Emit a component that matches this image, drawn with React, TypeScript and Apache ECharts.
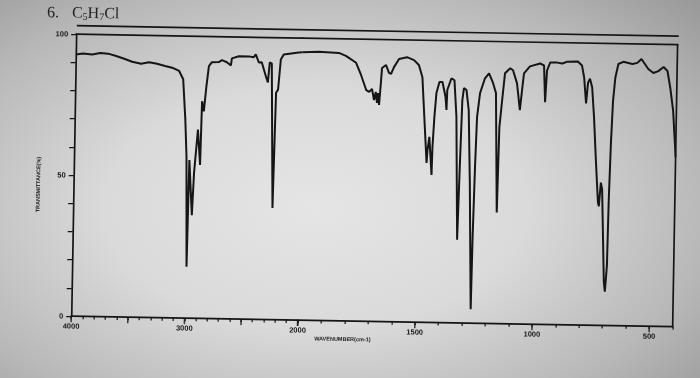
import React, { useEffect, useRef } from "react";
import * as echarts from "echarts";

// IR spectrum: wavenumber (cm-1) and transmittance (%)
const wavenumbers = [
  4000, 3935, 3855, 3785, 3715, 3643, 3572, 3501, 3422, 3352, 3281, 3210, 3138, 3085, 3048, 3023, 3007,
  2990, 2981, 2951, 2938, 2910, 2886, 2878, 2861, 2842, 2823, 2797, 2736, 2709, 2665, 2629, 2621, 2560,
  2472, 2428, 2411, 2383, 2357, 2318, 2300, 2286, 2268, 2240, 2232, 2226, 2209, 2189, 2164, 2032, 2000,
  1930, 1844, 1814, 1801, 1770, 1748, 1725, 1712, 1700, 1691, 1684, 1678, 1674, 1669, 1662, 1659, 1642,
  1629, 1620, 1608, 1587, 1553, 1523, 1502, 1486, 1475, 1462, 1459, 1452, 1440, 1438, 1432, 1425, 1413,
  1400, 1386, 1381, 1379, 1362, 1349, 1338, 1326, 1320, 1314, 1308, 1297, 1286, 1276, 1263, 1260, 1255,
  1250, 1239, 1219, 1202, 1184, 1171, 1159, 1154, 1145, 1134, 1112, 1100, 1082, 1068, 1060, 1053, 1028,
  985, 968, 961, 955, 942, 912, 890, 869, 824, 806, 796, 786, 779, 771, 761, 751, 740, 728, 724, 717, 711,
  704, 697, 692, 685, 682, 677, 671, 663, 651, 630, 591, 570, 553, 541, 523, 501, 480, 458, 441, 428, 414,
  402, 400,
];
const transmittance = [
  92.8, 93.2, 92.9, 93.5, 93.3, 92.5, 91.6, 90.6, 89.9, 90.5, 90.0, 89.3, 88.6, 87.6, 84.7, 70.4, 57.2,
  18.2, 56.1, 36.5, 51.5, 66.9, 54.4, 77.0, 73.4, 82.3, 89.5, 90.9, 91.0, 91.7, 91.0, 89.9, 92.4, 93.2,
  93.2, 92.9, 94.0, 91.1, 91.2, 86.2, 84.1, 91.2, 90.8, 39.6, 63.8, 80.5, 81.6, 92.3, 94.1, 94.9, 95.0,
  95.3, 95.0, 94.0, 93.3, 91.6, 87.3, 82.0, 81.4, 82.4, 78.5, 81.4, 77.5, 81.0, 76.8, 85.7, 89.9, 91.0,
  88.2, 87.9, 90.3, 93.2, 93.9, 92.9, 91.2, 86.9, 72.8, 56.5, 61.1, 65.8, 52.3, 62.2, 72.9, 81.4, 85.3,
  85.3, 80.0, 75.4, 82.5, 86.7, 86.0, 73.0, 29.5, 55.3, 79.0, 83.3, 82.6, 75.5, 49.8, 4.9, 30.7, 55.4,
  73.1, 81.6, 86.9, 88.7, 85.2, 81.7, 39.4, 69.7, 78.5, 88.8, 90.6, 89.9, 85.3, 75.8, 82.9, 88.9, 91.4,
  92.5, 91.8, 78.8, 90.0, 92.9, 92.9, 92.6, 93.3, 93.4, 92.0, 87.8, 78.6, 86.0, 87.4, 84.3, 73.8, 58.7,
  43.6, 42.2, 50.6, 48.2, 31.7, 15.5, 12.0, 21.2, 44.7, 64.7, 79.8, 87.9, 92.8, 93.6, 92.9, 93.3, 94.7,
  93.3, 91.2, 89.8, 90.5, 92.0, 90.6, 84.7, 76.6, 62.6, 60.0,
];

const xLabelsHigh = [4000, 3000];
const xLabelsLow = [2000, 1500, 1000, 500];
const majorTicksHigh = [4000, 3500, 3000, 2500, 2000];
const majorTicksLow = [2000, 1500, 1000, 500];
const yLabels = [0, 50, 100];
const xName = "WAVENUMBER(cm-1)";
const yName = "TRANSMITTANCE(%)";

const INK = "#151515";
const LABEL_FONT = "Liberation Sans";

export default function App() {
  const ref = useRef<HTMLDivElement>(null);

  useEffect(() => {
    const chart = echarts.init(ref.current as HTMLDivElement, null, { renderer: "svg" });
    const ptsHigh: number[][] = [];
    const ptsLow: number[][] = [];
    wavenumbers.forEach((w, i) => {
      if (w >= 2000) ptsHigh.push([w, transmittance[i]]);
      if (w <= 2000) ptsLow.push([w, transmittance[i]]);
    });

    const gridTop = 39;
    const gridH = 282;
    const axisLine = { show: true, onZero: false, lineStyle: { color: INK, width: 1.7 } };
    const labelStyle = {
      fontFamily: LABEL_FONT,
      fontSize: 7.5,
      fontWeight: "bold" as const,
      color: "#151515",
    };

    const option: any = {
      animation: false,
      backgroundColor: "transparent",
      title: {
        left: 44,
        top: 8,
        padding: 0,
        text: "{n|6.}{b|C}{s|5}{b|H}{s|7}{b|Cl}",
        textStyle: {
          fontFamily: "Liberation Serif",
          fontSize: 16,
          fontWeight: "normal",
          color: "#222",
          rich: {
            n: { fontFamily: "Liberation Serif", fontSize: 16, color: "#222", width: 25, lineHeight: 18 },
            b: { fontFamily: "Liberation Serif", fontSize: 16, color: "#222", lineHeight: 18 },
            s: {
              fontFamily: "Liberation Serif",
              fontSize: 10,
              color: "#222",
              lineHeight: 8,
              verticalAlign: "bottom",
            },
          },
        },
      },
      grid: [
        { left: 73.5, top: gridTop, width: 226.5, height: gridH, containLabel: false },
        { left: 300, top: gridTop, width: 375, height: gridH, containLabel: false },
      ],
      xAxis: [
        {
          gridIndex: 0,
          type: "value",
          min: 2000,
          max: 4000,
          interval: 100,
          inverse: true,
          position: "bottom",
          axisLine,
          axisTick: { show: true, length: 3, lineStyle: { color: INK, width: 1.2 } },
          axisLabel: {
            ...labelStyle,
            margin: 6,
            showMinLabel: true,
            showMaxLabel: true,
            formatter: (v: number) => (xLabelsHigh.includes(v) ? String(v) : ""),
          },
          splitLine: { show: false },
        },
        {
          gridIndex: 1,
          type: "value",
          min: 400,
          max: 2000,
          interval: 100,
          inverse: true,
          position: "bottom",
          axisLine,
          axisTick: { show: true, length: 3, lineStyle: { color: INK, width: 1.2 } },
          axisLabel: {
            ...labelStyle,
            margin: 6,
            showMinLabel: true,
            showMaxLabel: true,
            formatter: (v: number) => (xLabelsLow.includes(v) ? String(v) : ""),
          },
          splitLine: { show: false },
        },
        {
          gridIndex: 0,
          type: "value",
          min: 2000,
          max: 4000,
          inverse: true,
          position: "top",
          axisLine,
          axisTick: { show: false },
          axisLabel: { show: false },
          splitLine: { show: false },
        },
        {
          gridIndex: 1,
          type: "value",
          min: 400,
          max: 2000,
          inverse: true,
          position: "top",
          axisLine,
          axisTick: { show: false },
          axisLabel: { show: false },
          splitLine: { show: false },
        },
      ],
      yAxis: [
        {
          gridIndex: 0,
          type: "value",
          min: 0,
          max: 100,
          interval: 10,
          position: "left",
          axisLine,
          axisTick: { show: true, length: 5, lineStyle: { color: INK, width: 1.2 } },
          axisLabel: {
            ...labelStyle,
            margin: 8,
            showMinLabel: true,
            showMaxLabel: true,
            formatter: (v: number) => (yLabels.includes(v) ? String(v) : ""),
          },
          splitLine: { show: false },
        },
        {
          gridIndex: 1,
          type: "value",
          min: 0,
          max: 100,
          position: "right",
          axisLine,
          axisTick: { show: false },
          axisLabel: { show: false },
          splitLine: { show: false },
        },
      ],
      series: [
        {
          type: "line",
          xAxisIndex: 0,
          yAxisIndex: 0,
          data: ptsHigh,
          showSymbol: false,
          symbol: "none",
          lineStyle: { color: INK, width: 2 },
          silent: true,
        },
        {
          type: "line",
          xAxisIndex: 1,
          yAxisIndex: 1,
          data: ptsLow,
          showSymbol: false,
          symbol: "none",
          lineStyle: { color: INK, width: 2 },
          silent: true,
        },
        {
          type: "scatter",
          xAxisIndex: 0,
          yAxisIndex: 0,
          data: majorTicksHigh.map((v) => [v, 0]),
          symbol: "rect",
          symbolSize: [1.5, 6],
          symbolOffset: [0, 3],
          itemStyle: { color: INK },
          clip: false,
          silent: true,
          z: 5,
        },
        {
          type: "scatter",
          xAxisIndex: 1,
          yAxisIndex: 1,
          data: majorTicksLow.map((v) => [v, 0]),
          symbol: "rect",
          symbolSize: [1.5, 6],
          symbolOffset: [0, 3],
          itemStyle: { color: INK },
          clip: false,
          silent: true,
          z: 5,
        },
      ],
      graphic: [
        {
          type: "line",
          shape: { x1: 74, y1: 30.5, x2: 676, y2: 30.5 },
          style: { stroke: INK, lineWidth: 1.7 },
          silent: true,
        },
        {
          type: "text",
          x: 345,
          y: 339,
          silent: true,
          style: {
            text: xName,
            fontFamily: LABEL_FONT,
            fontSize: 5.5,
            fontWeight: "bold",
            fill: "#1a1a1a",
            align: "center",
            verticalAlign: "middle",
          },
        },
        {
          type: "text",
          x: 38,
          y: 190,
          rotation: Math.PI / 2,
          silent: true,
          style: {
            text: yName,
            fontFamily: LABEL_FONT,
            fontSize: 5.5,
            fontWeight: "bold",
            fill: "#1a1a1a",
            align: "center",
            verticalAlign: "middle",
          },
        },
      ],
    };

    chart.setOption(option);
    return () => {
      chart.dispose();
    };
  }, []);

  return (
    <div
      style={{
        position: "fixed",
        left: 0,
        top: 0,
        width: 700,
        height: 378,
        overflow: "hidden",
        background:
          "radial-gradient(ellipse 75% 80% at 45% 55%, #e5e5e5 0%, #dadada 40%, #b8b8b8 75%, #999999 100%)",
      }}
    >
      <div ref={ref} style={{ width: 700, height: 378, transform: "rotate(1deg)" }} />
    </div>
  );
}
